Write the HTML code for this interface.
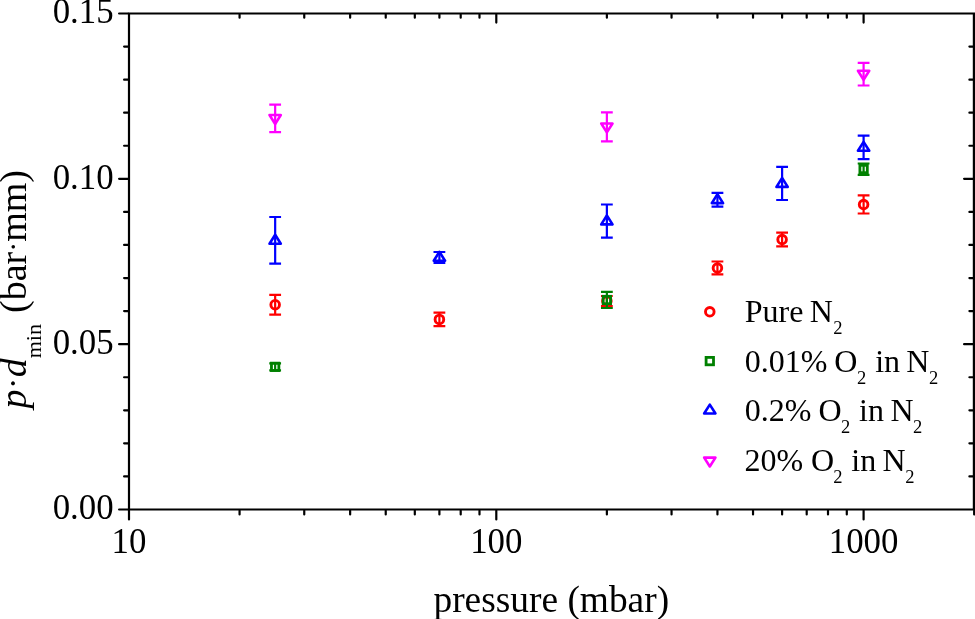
<!DOCTYPE html>
<html><head><meta charset="utf-8"><style>
html,body{margin:0;padding:0;background:#fff;}
svg{display:block;}
</style></head><body>
<svg width="975" height="619" viewBox="0 0 975 619">
<rect width="975" height="619" fill="#fff"/>
<g stroke="#000" stroke-width="2.2" fill="none" stroke-linecap="butt">
<path d="M129.0 12.4V510.6 M973.9 12.4V510.6 M127.9 13.5H975.0 M127.9 509.5H975.0"/>
</g>
<g stroke="#000" stroke-width="2.2" fill="none" stroke-linecap="round">
<path d="M129.00 510.60V519.40 M239.57 510.60V514.40 M239.57 14.60V17.70 M304.25 510.60V514.40 M304.25 14.60V17.70 M350.14 510.60V514.40 M350.14 14.60V17.70 M385.73 510.60V514.40 M385.73 14.60V17.70 M414.81 510.60V514.40 M414.81 14.60V17.70 M439.40 510.60V514.40 M439.40 14.60V17.70 M460.70 510.60V514.40 M460.70 14.60V17.70 M479.49 510.60V514.40 M479.49 14.60V17.70 M496.30 510.60V519.40 M496.30 14.60V22.60 M606.87 510.60V514.40 M606.87 14.60V17.70 M671.55 510.60V514.40 M671.55 14.60V17.70 M717.44 510.60V514.40 M717.44 14.60V17.70 M753.03 510.60V514.40 M753.03 14.60V17.70 M782.11 510.60V514.40 M782.11 14.60V17.70 M806.70 510.60V514.40 M806.70 14.60V17.70 M828.00 510.60V514.40 M828.00 14.60V17.70 M846.79 510.60V514.40 M846.79 14.60V17.70 M863.60 510.60V519.40 M863.60 14.60V22.60 M974.17 510.60V514.40 M127.90 509.50H119.10 M127.90 476.43H124.10 M972.80 476.43H969.40 M127.90 443.37H124.10 M972.80 443.37H969.40 M127.90 410.30H124.10 M972.80 410.30H969.40 M127.90 377.23H124.10 M972.80 377.23H969.40 M127.90 344.16H119.10 M972.80 344.16H964.10 M127.90 311.10H124.10 M972.80 311.10H969.40 M127.90 278.03H124.10 M972.80 278.03H969.40 M127.90 244.96H124.10 M972.80 244.96H969.40 M127.90 211.90H124.10 M972.80 211.90H969.40 M127.90 178.83H119.10 M972.80 178.83H964.10 M127.90 145.76H124.10 M972.80 145.76H969.40 M127.90 112.70H124.10 M972.80 112.70H969.40 M127.90 79.63H124.10 M972.80 79.63H969.40 M127.90 46.56H124.10 M972.80 46.56H969.40 M127.90 13.50H119.10 "/>
</g>
<g font-family="Liberation Serif, serif" font-size="34.8" fill="#000">
<text x="113.6" y="519.2" text-anchor="end">0.00</text>
<text x="113.6" y="353.9" text-anchor="end">0.05</text>
<text x="113.6" y="188.5" text-anchor="end">0.10</text>
<text x="113.6" y="23.2" text-anchor="end">0.15</text>
<text x="129.0" y="552.6" text-anchor="middle">10</text>
<text x="496.3" y="552.6" text-anchor="middle">100</text>
<text x="863.6" y="552.6" text-anchor="middle">1000</text>
</g>
<text x="551.3" y="611.5" text-anchor="middle" font-family="Liberation Serif, serif" font-size="37.4">pressure (mbar)</text>
<g font-family="Liberation Serif, serif" font-size="38" fill="#000">
<text transform="translate(26 170) rotate(-90)" text-anchor="end">(bar<tspan font-size="30" dy="-3.2">·</tspan><tspan dy="3.2">mm)</tspan></text>
<g transform="rotate(-90)">
<text x="-408.4" y="26" font-style="italic">p</text>
<text x="-389.0" y="23.6" font-size="34">·</text>
<text x="-377.2" y="26" font-style="italic">d</text>
<text x="-358.3" y="41.2" font-size="22">min</text>
</g></g>
<path d="M275.16 294.9V314.6 M269.26 294.9h11.8 M269.26 314.6h11.8" stroke="#ff0000" stroke-width="2.2" fill="none"/>
<circle cx="275.16" cy="304.7" r="4.3" stroke="#ff0000" stroke-width="2.9" fill="none"/>
<path d="M439.40 312.7V326.1 M433.50 312.7h11.8 M433.50 326.1h11.8" stroke="#ff0000" stroke-width="2.2" fill="none"/>
<circle cx="439.40" cy="319.4" r="4.3" stroke="#ff0000" stroke-width="2.9" fill="none"/>
<path d="M606.87 296.0V306.2 M600.97 296.0h11.8 M600.97 306.2h11.8" stroke="#ff0000" stroke-width="2.2" fill="none"/>
<circle cx="606.87" cy="301.1" r="4.3" stroke="#ff0000" stroke-width="2.9" fill="none"/>
<path d="M717.44 261.5V274.4 M711.54 261.5h11.8 M711.54 274.4h11.8" stroke="#ff0000" stroke-width="2.2" fill="none"/>
<circle cx="717.44" cy="268" r="4.3" stroke="#ff0000" stroke-width="2.9" fill="none"/>
<path d="M782.11 232.6V246.3 M776.21 232.6h11.8 M776.21 246.3h11.8" stroke="#ff0000" stroke-width="2.2" fill="none"/>
<circle cx="782.11" cy="239.5" r="4.3" stroke="#ff0000" stroke-width="2.9" fill="none"/>
<path d="M863.60 195.4V213.5 M857.70 195.4h11.8 M857.70 213.5h11.8" stroke="#ff0000" stroke-width="2.2" fill="none"/>
<circle cx="863.60" cy="204.5" r="4.3" stroke="#ff0000" stroke-width="2.9" fill="none"/>
<path d="M275.16 363.4V370.3 M269.26 363.4h11.8 M269.26 370.3h11.8" stroke="#008000" stroke-width="2.2" fill="none"/>
<rect x="271.46" y="363.15" width="7.4" height="7.4" stroke="#008000" stroke-width="2.8" fill="none"/>
<path d="M606.87 291.9V308.0 M600.97 291.9h11.8 M600.97 308.0h11.8" stroke="#008000" stroke-width="2.2" fill="none"/>
<rect x="603.17" y="296.30" width="7.4" height="7.4" stroke="#008000" stroke-width="2.8" fill="none"/>
<path d="M863.60 163.5V174.8 M857.70 163.5h11.8 M857.70 174.8h11.8" stroke="#008000" stroke-width="2.2" fill="none"/>
<rect x="859.90" y="165.30" width="7.4" height="7.4" stroke="#008000" stroke-width="2.8" fill="none"/>
<path d="M275.16 217V263.6 M269.26 217h11.8 M269.26 263.6h11.8" stroke="#0000ff" stroke-width="2.2" fill="none"/>
<path d="M275.16 234.80L280.81 243.70H269.51Z" stroke="#0000ff" stroke-width="2.6" fill="none" stroke-linejoin="round"/>
<path d="M439.40 252.0V262.8 M433.50 252.0h11.8 M433.50 262.8h11.8" stroke="#0000ff" stroke-width="2.2" fill="none"/>
<path d="M439.40 251.80L445.05 260.70H433.75Z" stroke="#0000ff" stroke-width="2.6" fill="none" stroke-linejoin="round"/>
<path d="M606.87 204.5V237.6 M600.97 204.5h11.8 M600.97 237.6h11.8" stroke="#0000ff" stroke-width="2.2" fill="none"/>
<path d="M606.87 215.50L612.52 224.40H601.22Z" stroke="#0000ff" stroke-width="2.6" fill="none" stroke-linejoin="round"/>
<path d="M717.44 192.9V206.6 M711.54 192.9h11.8 M711.54 206.6h11.8" stroke="#0000ff" stroke-width="2.2" fill="none"/>
<path d="M717.44 194.20L723.09 203.10H711.79Z" stroke="#0000ff" stroke-width="2.6" fill="none" stroke-linejoin="round"/>
<path d="M782.11 166.9V200 M776.21 166.9h11.8 M776.21 200h11.8" stroke="#0000ff" stroke-width="2.2" fill="none"/>
<path d="M782.11 178.00L787.76 186.90H776.46Z" stroke="#0000ff" stroke-width="2.6" fill="none" stroke-linejoin="round"/>
<path d="M863.60 135.6V159.1 M857.70 135.6h11.8 M857.70 159.1h11.8" stroke="#0000ff" stroke-width="2.2" fill="none"/>
<path d="M863.60 141.90L869.25 150.80H857.95Z" stroke="#0000ff" stroke-width="2.6" fill="none" stroke-linejoin="round"/>
<path d="M275.16 104.7V132.2 M269.26 104.7h11.8 M269.26 132.2h11.8" stroke="#ff00ff" stroke-width="2.2" fill="none"/>
<path d="M275.16 123.95L280.81 115.05H269.51Z" stroke="#ff00ff" stroke-width="2.6" fill="none" stroke-linejoin="round"/>
<path d="M606.87 112.4V141.4 M600.97 112.4h11.8 M600.97 141.4h11.8" stroke="#ff00ff" stroke-width="2.2" fill="none"/>
<path d="M606.87 132.40L612.52 123.50H601.22Z" stroke="#ff00ff" stroke-width="2.6" fill="none" stroke-linejoin="round"/>
<path d="M863.60 62.8V85.5 M857.70 62.8h11.8 M857.70 85.5h11.8" stroke="#ff00ff" stroke-width="2.2" fill="none"/>
<path d="M863.60 79.70L869.25 70.80H857.95Z" stroke="#ff00ff" stroke-width="2.6" fill="none" stroke-linejoin="round"/>
<circle cx="709.80" cy="311.8" r="4.3" stroke="#ff0000" stroke-width="2.9" fill="none"/>
<rect x="706.10" y="357.40" width="7.4" height="7.4" stroke="#008000" stroke-width="2.8" fill="none"/>
<path d="M709.80 404.60L715.45 413.50H704.15Z" stroke="#0000ff" stroke-width="2.6" fill="none" stroke-linejoin="round"/>
<path d="M709.80 466.50L715.45 457.60H704.15Z" stroke="#ff00ff" stroke-width="2.6" fill="none" stroke-linejoin="round"/>
<g font-family="Liberation Serif, serif" fill="#000">
<text x="744.78" y="322.40" font-size="32">Pure</text>
<text x="809.68" y="322.40" font-size="32">N</text>
<text x="833.19" y="334.20" font-size="18.5">2</text>
<text x="744.78" y="371.80" font-size="32">0.01%</text>
<text x="834.19" y="371.80" font-size="32">O</text>
<text x="856.99" y="383.60" font-size="18.5">2</text>
<text x="875.13" y="371.80" font-size="32">in</text>
<text x="906.28" y="371.80" font-size="32">N</text>
<text x="928.89" y="383.60" font-size="18.5">2</text>
<text x="744.68" y="421.10" font-size="32">0.2%</text>
<text x="818.39" y="421.10" font-size="32">O</text>
<text x="840.99" y="432.90" font-size="18.5">2</text>
<text x="859.03" y="421.10" font-size="32">in</text>
<text x="890.38" y="421.10" font-size="32">N</text>
<text x="913.09" y="432.90" font-size="18.5">2</text>
<text x="744.50" y="470.70" font-size="32">20%</text>
<text x="810.99" y="470.70" font-size="32">O</text>
<text x="833.19" y="482.50" font-size="18.5">2</text>
<text x="851.33" y="470.70" font-size="32">in</text>
<text x="882.38" y="470.70" font-size="32">N</text>
<text x="905.19" y="482.50" font-size="18.5">2</text>
</g>
</svg>
</body></html>
